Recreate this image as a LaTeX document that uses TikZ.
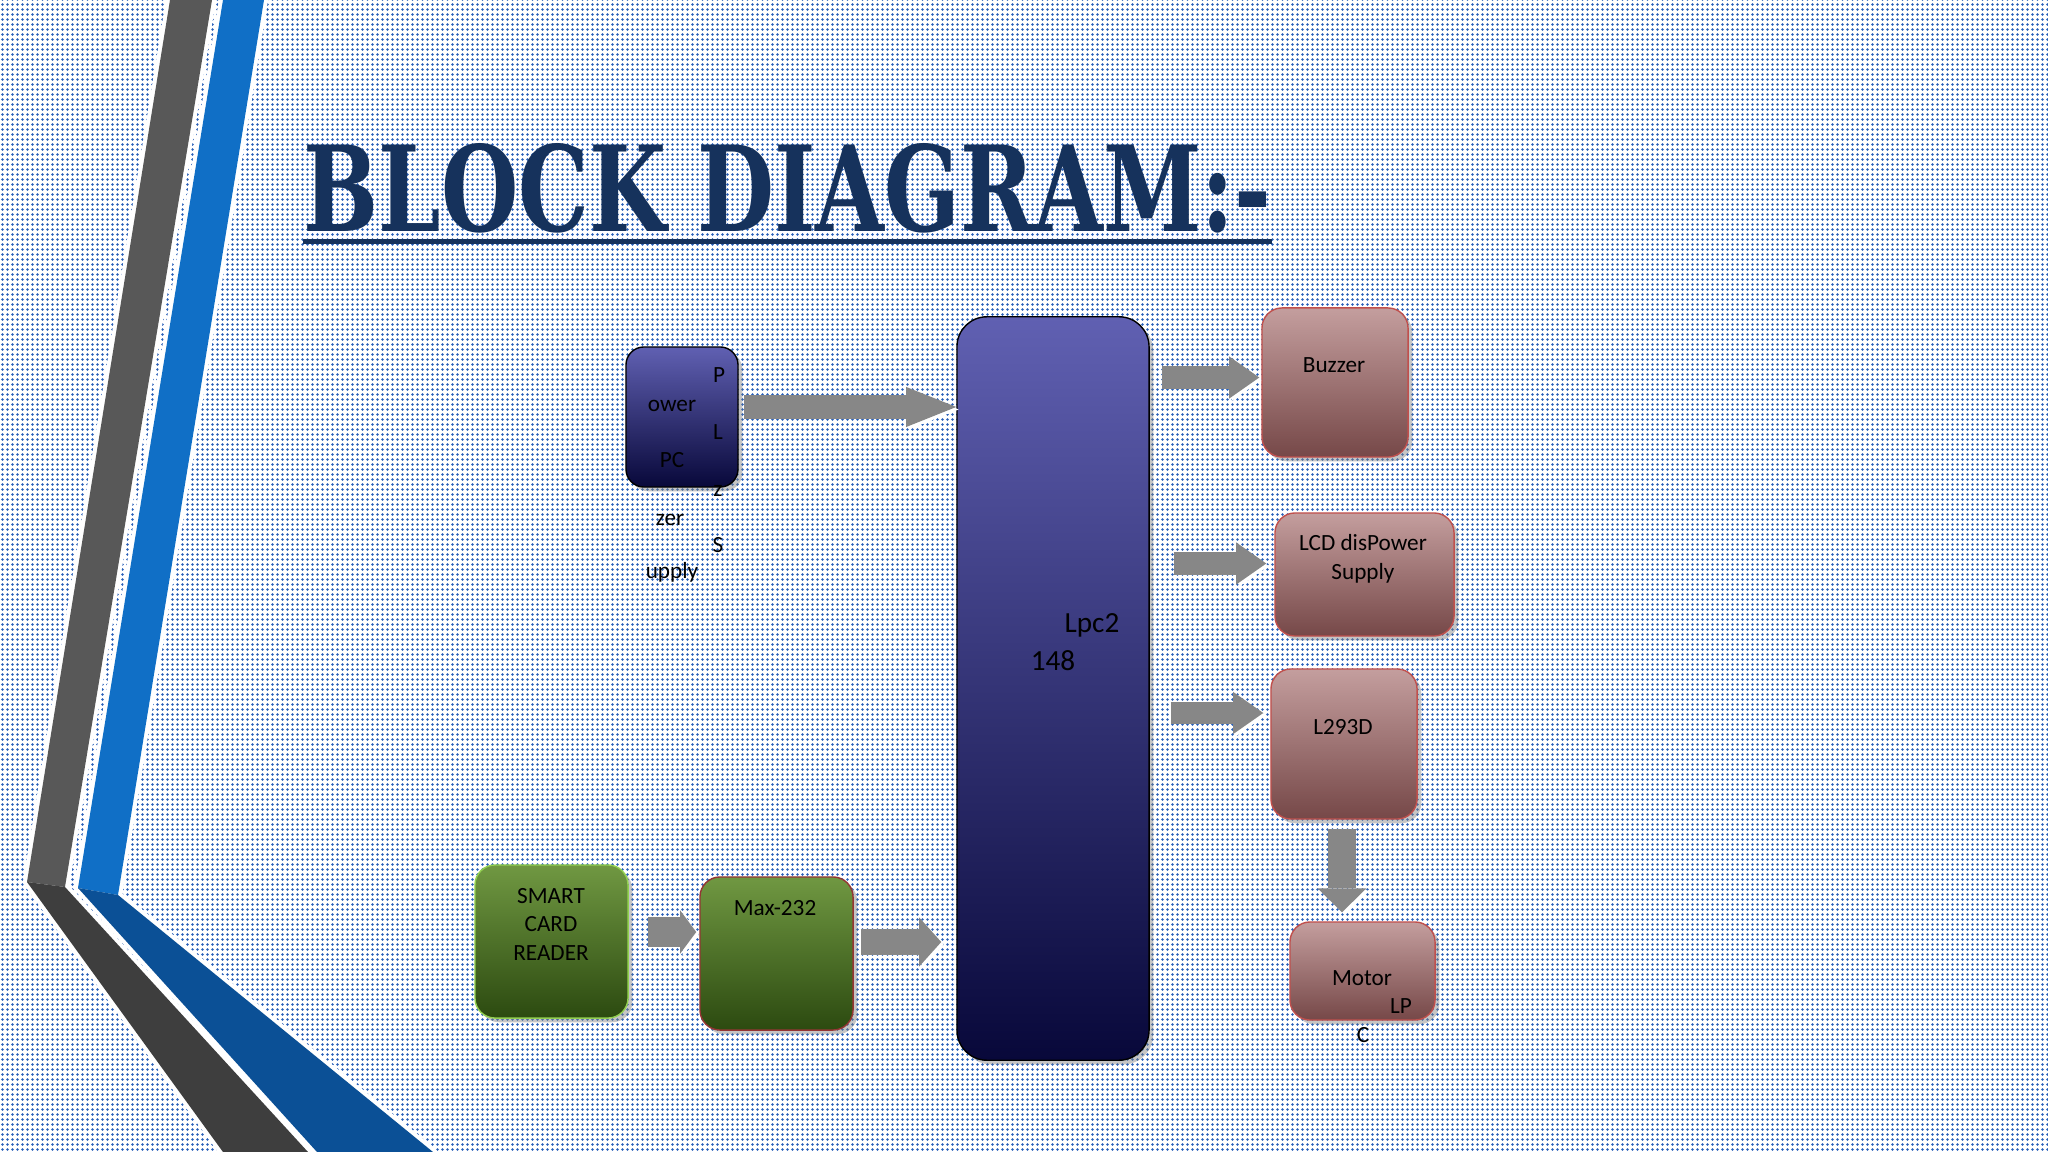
\documentclass[tikz,border=0pt]{standalone}
\usepackage{fontspec}
\setmainfont{Carlito}
\newfontfamily\titlefont{DejaVu Serif}
\usepackage{graphicx}
\usetikzlibrary{arrows.meta,calc,shadows,patterns.meta}

\definecolor{dotblue}{RGB}{40,95,185}
\definecolor{titlenavy}{RGB}{22,50,92}
\definecolor{bandgray}{RGB}{88,88,88}
\definecolor{banddark}{RGB}{62,62,62}
\definecolor{bandblue}{RGB}{16,111,198}
\definecolor{banddeep}{RGB}{11,80,150}
\definecolor{navytop}{RGB}{96,96,178}
\definecolor{navybot}{RGB}{8,8,58}
\definecolor{mauvetop}{RGB}{196,158,158}
\definecolor{mauvebot}{RGB}{118,72,72}
\definecolor{mauveline}{RGB}{192,80,77}
\definecolor{greentop}{RGB}{112,152,66}
\definecolor{greenbot}{RGB}{44,74,16}
\definecolor{greenline}{RGB}{146,208,80}
\definecolor{maxline}{RGB}{148,54,52}
\definecolor{arrowgray}{RGB}{135,135,135}

\tikzdeclarepattern{
    name=bgdots,
    type=uncolored,
    bounding box={(0pt,0pt) and (1.42pt,1.42pt)},
    tile size={(1.42pt,1.42pt)},
    code={
        \pgfpathcircle{\pgfpoint{0.71pt}{0.71pt}}{0.38pt}
        \pgfusepath{fill}
    }
}

\begin{document}
\begin{tikzpicture}[
    x=0.01cm,
    y=-0.01cm,
    font=\fontsize{6.6}{8.1}\selectfont,
    box/.style={
        draw,
        line width=0.4pt,
        inner sep=0pt,
        drop shadow={
            shadow xshift=1.2pt,
            shadow yshift=-1.2pt,
            opacity=0.45
        }
    },
    navybox/.style={
        box,
        draw=black,
        top color=navytop,
        bottom color=navybot
    },
    mauvebox/.style={
        box,
        draw=mauveline,
        top color=mauvetop,
        bottom color=mauvebot,
        rounded corners=0.2cm
    },
    greenbox/.style={
        box,
        top color=greentop,
        bottom color=greenbot,
        rounded corners=0.2cm
    },
    blockarr/.style n args={3}{
        draw=arrowgray,
        line width=#1,
        -{Triangle[width=#2, length=#3, line width=0pt]},
        preaction={
            draw=white,
            transform canvas={xshift=0.7pt, yshift=-0.7pt}
        }
    },
    lbl/.style={
        inner sep=0pt,
        anchor=base
    },
    outline/.style={
        draw=white,
        line width=0.08cm,
        line join=round
    }
]

\useasboundingbox (0,0) rectangle (2048,1152);

% Background with dots
\fill[white] (0,0) rectangle (2048,1152);
\fill[
    pattern=bgdots,
    pattern color=dotblue
] (0,0) rectangle (2048,1152);

% Left bands
\draw[outline] (170,0) -- (212,0) -- (65,887) -- (27,882) -- cycle;
\draw[outline] (27,882) -- (65,887) -- (308,1152) -- (223,1152) -- cycle;
\draw[outline] (223,0) -- (264,0) -- (118,895) -- (78,888) -- cycle;
\draw[outline] (78,888) -- (118,895) -- (433,1152) -- (317,1152) -- cycle;

\fill[bandgray] (170,0) -- (212,0) -- (65,887) -- (27,882) -- cycle;
\fill[banddark] (27,882) -- (65,887) -- (308,1152) -- (223,1152) -- cycle;
\fill[bandblue] (223,0) -- (264,0) -- (118,895) -- (78,888) -- cycle;
\fill[banddeep] (78,888) -- (118,895) -- (433,1152) -- (317,1152) -- cycle;

% Title
\node[
    inner sep=0pt,
    anchor=base west,
    text=titlenavy
] (title) at (303,232) {
    \resizebox{9.67cm}{0.88cm}{\titlefont\bfseries BLOCK DIAGRAM:-}
};

\draw[
    titlenavy,
    line width=0.05cm
] ($(title.base west)+(0,10)$) -- ($(title.base east)+(0,10)$);


% Blocks
\node[
    navybox,
    rounded corners=0.18cm,
    minimum width=1.12cm,
    minimum height=1.40cm
] (pwr) at (682,417) {};

\node[
    navybox,
    rounded corners=0.3cm,
    minimum width=1.92cm,
    minimum height=7.43cm
] (lpc) at (1053,688.5) {};

\node[
    mauvebox,
    minimum width=1.46cm,
    minimum height=1.49cm
] (buzzer) at (1335,382.5) {};

\node[
    mauvebox,
    minimum width=1.79cm,
    minimum height=1.23cm
] (lcd) at (1364.5,574.5) {};

\node[
    mauvebox,
    minimum width=1.46cm,
    minimum height=1.50cm
] (driver) at (1344,744) {};

\node[
    mauvebox,
    minimum width=1.45cm,
    minimum height=0.98cm
] (motor) at (1362.5,971) {};

\node[
    greenbox,
    draw=greenline,
    minimum width=1.53cm,
    minimum height=1.53cm
] (card) at (551.5,941.5) {};

\node[
    greenbox,
    draw=maxline,
    minimum width=1.53cm,
    minimum height=1.53cm
] (max) at (776.5,953.5) {};


% Block arrows
\draw[
    blockarr={0.23cm}{0.40cm}{0.50cm},
    shorten <=0.05cm
] ($(pwr.east)+(0,-10)$) -- ($(pwr.east -| lpc.west)+(0,-10)$);

\draw[
    blockarr={0.22cm}{0.42cm}{0.30cm},
    shorten <=0.12cm,
    shorten >=0.02cm
] ($(buzzer.west -| lpc.east)+(0,-5)$) -- ($(buzzer.west)+(0,-5)$);

\draw[
    blockarr={0.22cm}{0.42cm}{0.30cm},
    shorten <=0.24cm,
    shorten >=0.08cm
] ($(lcd.west -| lpc.east)+(0,-11)$) -- ($(lcd.west)+(0,-11)$);

\draw[
    blockarr={0.22cm}{0.42cm}{0.30cm},
    shorten <=0.21cm,
    shorten >=0.07cm
] ($(driver.west -| lpc.east)+(0,-31)$) -- ($(driver.west)+(0,-31)$);

\draw[
    blockarr={0.28cm}{0.49cm}{0.24cm},
    shorten <=0.09cm,
    shorten >=0.09cm
] ($(driver.south)+(-2,0)$) -- ($(driver.south |- motor.north)+(-2,0)$);

\draw[
    blockarr={0.29cm}{0.43cm}{0.16cm},
    shorten <=0.19cm,
    shorten >=0.03cm
] ($(card.east)+(0,-9.5)$) -- ($(card.east -| max.west)+(0,-9.5)$);

\draw[
    blockarr={0.25cm}{0.49cm}{0.22cm},
    shorten <=0.07cm,
    shorten >=0.15cm
] ($(max.east)+(0,-11.5)$) -- ($(max.east -| lpc.west)+(0,-11.5)$);


% Labels
\node[lbl] (pwrP) at (719,383) {P};
\node[lbl] (pwrOwer) at (672,412) {ower};
\node[lbl] (pwrL) at (718,440) {L};
\node[lbl] (pwrPC) at (672,468) {PC};
\node[lbl] (pwrZ) at (718,497) {z};
\node[lbl] (pwrZer) at (670,525) {zer};
\node[lbl] (pwrS) at (718,553) {S};
\node[lbl] (pwrUpply) at (672,579) {upply};

\node[
    lbl,
    font=\fontsize{8.3}{10}\selectfont
] (lpcA) at (1092,633) {Lpc2};
\node[
    lbl,
    font=\fontsize{8.3}{10}\selectfont
] (lpcB) at (1053,670) {148};

\node[lbl] (buzzerT) at (1334,373) {Buzzer};

\node[
    align=center,
    inner sep=0pt
] (lcdT) at (1363,559) {
    LCD disPower\\
    Supply
};

\node[lbl] (driverT) at (1343,735) {L293D};

\node[lbl] (motorT) at (1362,985) {Motor};
\node[lbl] (motorLP) at (1401,1013) {LP};
\node[lbl] (motorC) at (1363,1042) {C};

\node[
    align=center,
    inner sep=0pt
] (cardT) at (551,924) {
    SMART\\
    CARD\\
    READER
};

\node[lbl] (maxT) at (775,915) {Max-232};

\end{tikzpicture}
\end{document}
